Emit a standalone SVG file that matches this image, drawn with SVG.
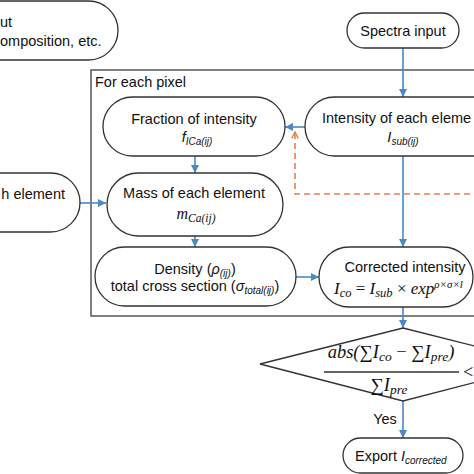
<svg xmlns="http://www.w3.org/2000/svg" width="474" height="474" viewBox="0 0 474 474">
<style>
.pill{fill:#fff;stroke:#333;stroke-width:1.3}
.frame{fill:none;stroke:#555;stroke-width:1.5}
.t{font-family:"Liberation Sans",Arial,sans-serif;font-size:14.5px;fill:#111}
.m{font-family:"Liberation Serif","DejaVu Serif",serif;font-style:italic;fill:#111}
.i{font-style:italic}
.blue{fill:none;stroke:#4a88c7;stroke-width:1.6}
.dash{fill:none;stroke:#e8804f;stroke-width:1.6;stroke-dasharray:6 4}
</style>
<defs>
<marker id="ab" viewBox="0 0 10 10" refX="10" refY="5" markerWidth="8" markerHeight="8" markerUnits="userSpaceOnUse" orient="auto"><path d="M0,0 L10,5 L0,10 z" fill="#4a88c7"/></marker>
<marker id="ao" viewBox="0 0 10 10" refX="9" refY="5" markerWidth="8" markerHeight="8" markerUnits="userSpaceOnUse" orient="auto"><path d="M1,1 L9,5 L1,9" fill="none" stroke="#e8804f" stroke-width="1.8"/></marker>
</defs>
<rect width="474" height="474" fill="#fff"/>
<g id="frame">
<rect class="frame" x="91" y="70" width="400" height="246"/>
<text class="t" x="95" y="87">For each pixel</text>
</g>
<g id="connectors">
<line class="blue" x1="403" y1="48" x2="403" y2="97" marker-end="url(#ab)"/>
<line class="blue" x1="305" y1="127" x2="285" y2="127" marker-end="url(#ab)"/>
<line class="blue" x1="195" y1="156" x2="195" y2="173" marker-end="url(#ab)"/>
<line class="blue" x1="80" y1="203" x2="106" y2="203" marker-end="url(#ab)"/>
<line class="blue" x1="195" y1="236" x2="195" y2="247" marker-end="url(#ab)"/>
<line class="blue" x1="296" y1="277" x2="319" y2="277" marker-end="url(#ab)"/>
<line class="blue" x1="403" y1="156" x2="403" y2="247" marker-end="url(#ab)"/>
<line class="blue" x1="403" y1="307" x2="403" y2="328" marker-end="url(#ab)"/>
<line class="blue" x1="403" y1="401" x2="403" y2="438" marker-end="url(#ab)"/>
<polyline class="dash" points="480,194 295,194 295,132" marker-end="url(#ao)"/>
<text class="t" x="385" y="424" text-anchor="middle">Yes</text>
</g>
<g id="input">
<rect class="pill" x="-100" y="1" width="218" height="59" rx="29.5"/>
<text class="t" x="0" y="27">ut</text>
<text class="t" x="0" y="46">omposition, etc.</text>
</g>
<g id="spectra">
<rect class="pill" x="347" y="13" width="112" height="35" rx="17.5"/>
<text class="t" x="403" y="36" text-anchor="middle">Spectra input</text>
</g>
<g id="element">
<rect class="pill" x="-100" y="173" width="180" height="59" rx="29.5"/>
<text class="t" x="65" y="199" text-anchor="end">h element</text>
</g>
<g id="fraction">
<rect class="pill" x="103" y="97" width="182" height="59" rx="29.5"/>
<text class="t" x="194" y="124" text-anchor="middle">Fraction of intensity</text>
<text class="t i" x="197" y="142" text-anchor="middle">f<tspan font-size="10" dy="3">ICa(ij)</tspan></text>
</g>
<g id="intensity">
<rect class="pill" x="305" y="97" width="210" height="59" rx="29.5"/>
<text class="t" x="322" y="123">Intensity of each eleme</text>
<text class="t i" x="403" y="142" text-anchor="middle">I<tspan font-size="10" dy="3">sub(ij)</tspan></text>
</g>
<g id="mass">
<rect class="pill" x="107" y="173" width="176" height="63" rx="31.5"/>
<text class="t" x="194" y="198" text-anchor="middle">Mass of each element</text>
<text class="m" x="196" y="219" text-anchor="middle" font-size="16">m<tspan font-size="11.5" dy="3">Ca(ij)</tspan></text>
</g>
<g id="density">
<rect class="pill" x="95" y="247" width="201" height="59" rx="29.5"/>
<text class="t" x="195" y="274" text-anchor="middle">Density (<tspan class="i">ρ</tspan><tspan class="i" font-size="10" dy="3">(ij)</tspan><tspan dy="-3">)</tspan></text>
<text class="t" x="195" y="291" text-anchor="middle">total cross section (<tspan class="i">σ</tspan><tspan class="i" font-size="10" dy="3">total(ij)</tspan><tspan dy="-3">)</tspan></text>
</g>
<g id="corrected">
<rect class="pill" x="319" y="247" width="154" height="60" rx="30"/>
<text class="t" x="405" y="272" text-anchor="middle">Corrected intensity</text>
<text class="m" x="334" y="294" font-size="17">I<tspan font-size="12.5" dy="3">co</tspan><tspan dy="-3" font-style="normal"> = </tspan>I<tspan font-size="12.5" dy="3">sub</tspan><tspan dy="-3" font-style="normal"> × </tspan>exp<tspan font-size="11" dy="-6">ρ×σ×l</tspan></text>
</g>
<g id="decision">
<polygon class="pill" points="403,328 546,364 403,401 260,364"/>
<text class="m" x="391" y="358" text-anchor="middle" font-size="18.5">abs(<tspan font-style="normal">∑</tspan>I<tspan font-size="13.5" dy="3">co</tspan><tspan dy="-3" font-style="normal"> − ∑</tspan>I<tspan font-size="13.5" dy="3">pre</tspan><tspan dy="-3">)</tspan></text>
<line x1="324" y1="372" x2="459" y2="372" stroke="#333" stroke-width="1.4"/>
<text class="m" x="389" y="391" text-anchor="middle" font-size="18.5"><tspan font-style="normal">∑</tspan>I<tspan font-size="13.5" dy="3">pre</tspan></text>
<text class="m" x="462" y="378" font-size="18" font-style="normal">&lt;</text>
</g>
<g id="export">
<rect class="pill" x="343" y="438" width="120" height="35" rx="17.5"/>
<text class="t" x="355" y="461">Export <tspan class="i">I</tspan><tspan class="i" font-size="10" dy="3">corrected</tspan></text>
</g>
</svg>
